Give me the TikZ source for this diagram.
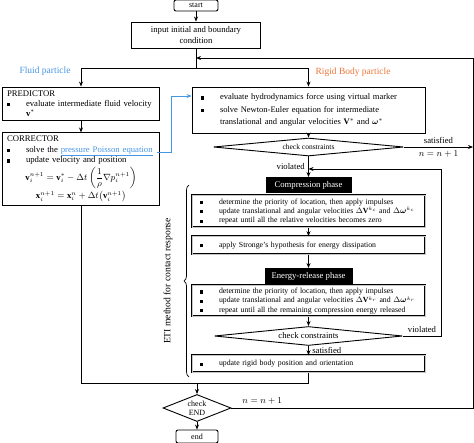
\documentclass[tikz,border=0pt]{standalone}
\usepackage{amsmath,bm}
\usepackage{fontspec}
\setmainfont{Liberation Serif}
\usetikzlibrary{positioning, arrows.meta, shapes.geometric, decorations.pathreplacing}

\definecolor{fluidblue}{RGB}{70,150,230}
\definecolor{rigidorange}{RGB}{236,118,58}

\newcommand{\bsq}{\makebox[19pt][l]{\rule{3.4pt}{3.4pt}}}
\newcommand{\dsq}{\hspace*{3pt}\makebox[19pt][l]{\rule{3.2pt}{3.2pt}}}
\newcommand{\ind}{\hspace*{19pt}}

\tikzset{
  term/.style={draw, rounded corners=2pt, inner sep=1pt, font=\fontsize{8}{9}\selectfont},
  proc/.style={draw, align=center, inner sep=2pt, font=\fontsize{8.7}{11}\selectfont},
  fluidbox/.style={draw, align=left, text width=148pt, inner xsep=4.5pt, inner ysep=3pt,
    font=\fontsize{8.7}{10.5}\selectfont},
  rigidbox/.style={draw, align=left, text width=215pt, inner xsep=8pt, font=\fontsize{8.5}{12.5}\selectfont},
  dbox/.style={draw, double=gray!45, double distance=0.8pt, line width=0.6pt, align=left,
    text width=223pt, inner xsep=4pt, inner ysep=2pt, font=\fontsize{7.8}{9.3}\selectfont},
  phase/.style={fill=black, text=white, inner sep=1pt, font=\fontsize{8.7}{10}\selectfont},
  check/.style={draw, diamond, shape aspect=10, inner sep=0pt, font=\fontsize{7.5}{9}\selectfont},
  lbl/.style={font=\fontsize{8.7}{10}\selectfont},
  arr/.style={->},
  link/.style={->, draw=fluidblue},
}

\begin{document}
\begin{tikzpicture}[x=1pt, y=-1pt, on grid, line width=0.9pt,
    >={Stealth[length=5pt, width=4pt]}]
  \useasboundingbox (0,0) rectangle (474,443);

  % start and input
  \node[term, minimum width=44pt, minimum height=11pt] (start) at (196,5.5) {start};
  \node[proc, minimum width=129pt, minimum height=26pt, below=29.5pt of start] (init)
    {input initial and boundary\\condition};
  \coordinate[below=20pt of init.south] (split);
  \coordinate (fbtop) at (473,58);

  \node[text=fluidblue, font=\fontsize{9.5}{11}\selectfont] (fluidlbl) at (45,71) {Fluid particle};
  \node[text=rigidorange, font=\fontsize{9.5}{11}\selectfont] (rigidlbl) at (353,72) {Rigid Body particle};

  % fluid particle
  \node[fluidbox, minimum height=33pt, font=\fontsize{8.7}{10}\selectfont] (pred) at (81,103.5)
    {PREDICTOR\\
     \bsq evaluate intermediate fluid velocity\\
     \ind $\mathbf{v}^{*}$};
  \node[fluidbox, minimum height=72pt, below=65.5pt of pred] (corr)
    {CORRECTOR\\
     \bsq solve the \textcolor{fluidblue}{\underline{pressure Poisson equation}}\\
     \bsq update velocity and position\\[2pt]
     \makebox[148pt]{$\mathbf{v}_i^{n+1}=\mathbf{v}_i^{*}-\Delta t\left(\dfrac{1}{\rho}\nabla p_i^{n+1}\right)$}\\[1pt]
     \makebox[148pt]{$\mathbf{x}_i^{n+1}=\mathbf{x}_i^{n}+\Delta t\big(\mathbf{v}_i^{n+1}\big)$}};
  \coordinate (pp) at (157,152);
  \coordinate (link) at (171,96);

  % rigid body particle
  \node[rigidbox, minimum width=233pt, minimum height=46pt] (rigid) at (308.5,110)
    {\bsq evaluate hydrodynamics force using virtual marker\\
     \bsq solve Newton-Euler equation for intermediate\\
     \ind translational and angular velocities $\mathbf{V}^{*}$ and $\bm{\omega}^{*}$};
  \node[check, minimum width=190pt, minimum height=18pt, below=37pt of rigid] (dia1) {check constraints};
  \node[phase, minimum width=86pt, minimum height=16pt, below=38.5pt of dia1] (comp) {Compression phase};
  \node[dbox, minimum width=233pt, minimum height=32pt, below=26pt of comp] (cbox)
    {\dsq determine the priority of location, then apply impulses\\
     \dsq update translational and angular velocities $\Delta\mathbf{V}^{k_c}$ and $\Delta\bm{\omega}^{k_c}$\\
     \dsq repeat until all the relative velocities becomes zero};
  \node[dbox, minimum width=233pt, minimum height=18pt, below=34pt of cbox] (stronge)
    {\dsq apply Stronge's hypothesis for energy dissipation};
  \node[phase, minimum width=88pt, minimum height=16pt, below=31pt of stronge] (energy) {Energy-release phase};
  \node[dbox, minimum width=233pt, minimum height=31pt, below=24.5pt of energy] (rbox)
    {\dsq determine the priority of location, then apply impulses\\
     \dsq update translational and angular velocities $\Delta\mathbf{V}^{k_r}$ and $\Delta\bm{\omega}^{k_r}$\\
     \dsq repeat until all the remaining compression energy released};
  \node[check, minimum width=188pt, minimum height=19pt, below=35pt of rbox,
    font=\fontsize{8.7}{10}\selectfont] (dia2) {check constraints};
  \node[dbox, minimum width=233pt, minimum height=17pt, below=28pt of dia2] (upd)
    {\dsq update rigid body position and orientation};
  \coordinate[below=11pt of upd.south] (merge);
  \coordinate (loop) at (441,169);

  % end
  \node[check, shape aspect=2.5, minimum width=68pt, minimum height=27pt, align=center,
    font=\fontsize{8}{9}\selectfont] (chkend) at (197,408) {check\\END};
  \node[term, minimum width=42pt, minimum height=13pt, below=28.5pt of chkend] (endn) {end};

  % brace
  \draw[decorate, decoration={brace, amplitude=5pt}, line width=0.7pt] (189,377) -- (189,185);
  \node[rotate=90, font=\fontsize{9.6}{12}\selectfont] (eti) at (168,281) {ETI method for contact response};

  % connectors
  \draw[arr] (start) -- (init);
  \draw (init) -- (split);
  \draw[arr] (split) -| (pred);
  \draw[arr] (split) -| (rigid);
  \draw[arr] (pred) -- (corr);
  \draw[link] (pp) -- (pp -| link) -- (link) -- (link -| rigid.west);
  \draw[arr] (rigid) -- (dia1);
  \draw[arr] (dia1.east) -- (dia1.east -| fbtop)
    node[lbl, midway, above] {satisfied} node[lbl, midway, below] {$n=n+1$};
  \draw[arr] (dia1) -- node[lbl, left] {violated} (comp);
  \draw[arr] (cbox) -- (stronge);
  \draw[arr] (stronge) -- (energy);
  \draw[arr] (rbox) -- (dia2);
  \draw[arr] (dia2.east) -- node[lbl, above] {violated} (dia2.east -| loop) -- (loop) -- (dia1.south |- loop);
  \draw[arr] (dia2) -- node[lbl, right] {satisfied} (upd);
  \draw (corr.south) |- (merge);
  \draw (upd) -- (merge);
  \draw[arr] (chkend.north |- merge) -- (chkend);
  \draw[arr] (chkend) -- (endn);
  \draw[arr] (chkend.east) -- node[lbl, pos=0.03, anchor=south west] {$n=n+1$}
    (chkend.east -| fbtop) -- (fbtop) -- (init.south |- fbtop);
\end{tikzpicture}
\end{document}
